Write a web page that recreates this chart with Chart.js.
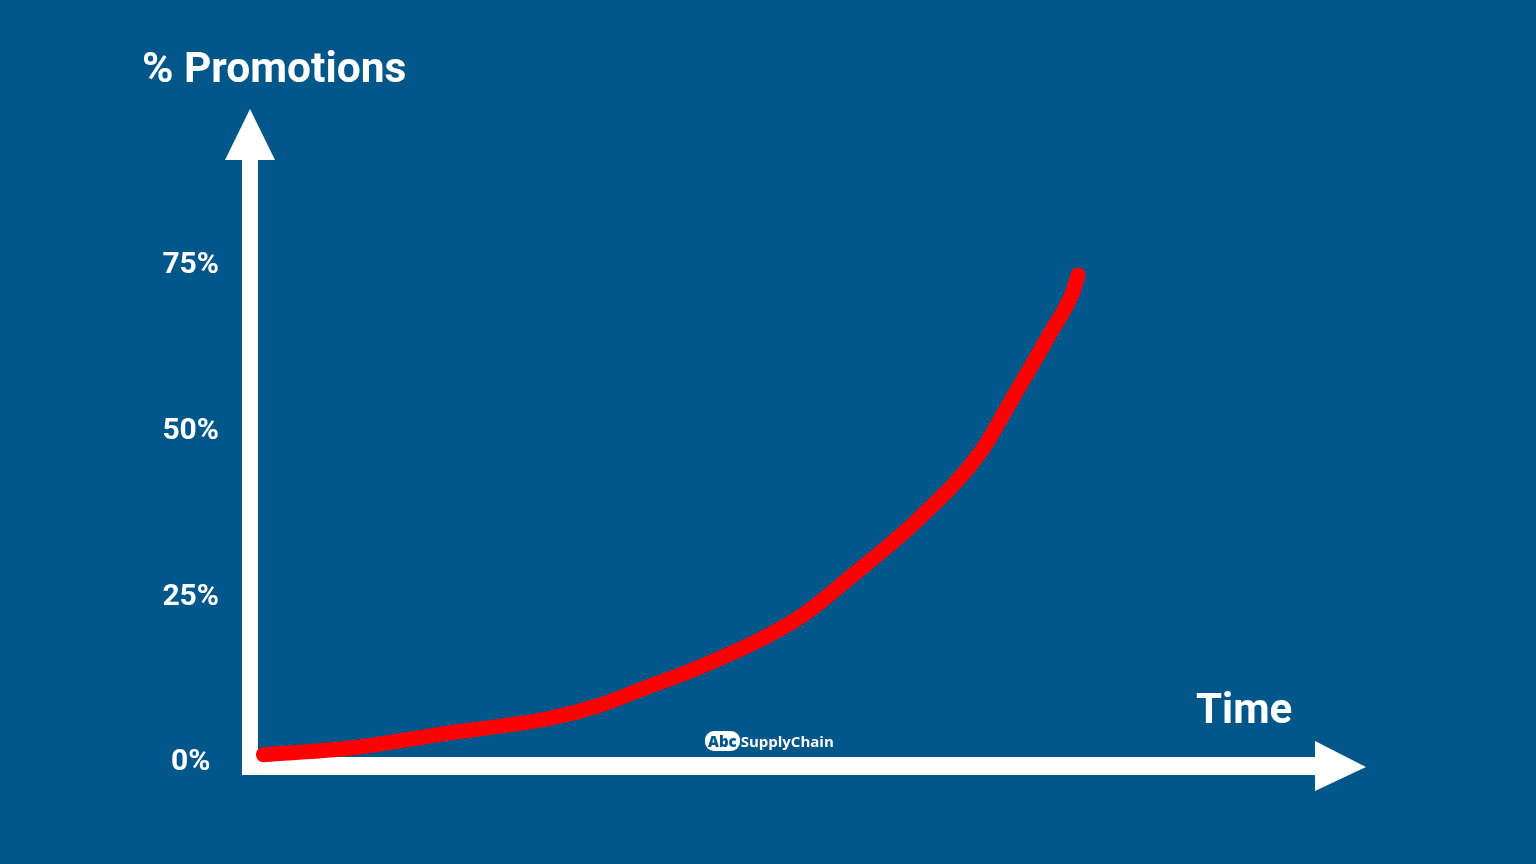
<!DOCTYPE html>
<html>
<head>
<meta charset="utf-8">
<script src="https://cdn.jsdelivr.net/npm/chart.js@4"></script>
<style>
  html, body { margin: 0; padding: 0; background: #01568a; overflow: hidden; }
  #wrap { position: relative; width: 1536px; height: 864px; }
  canvas { position: absolute; left: 0; top: 0; }
  .label { position: absolute; color: #fff; font-family: Roboto, sans-serif; font-weight: 700; white-space: nowrap; }
  #yTitle { left: 142px; top: 47px; font-size: 42.5px; line-height: 42px; }
  #xTitle { left: 1196px; top: 688px; font-size: 42px; line-height: 42px; }
  #brand { left: 705px; top: 732px; font-family: "Open Sans", sans-serif; font-size: 15px; line-height: 18px; }
  #brand .pill { background: #fff; color: #01568a; border-radius: 9px; padding: 0 3px; margin-right: 1px; font-weight: 800; }
</style>
</head>
<body>
<div id="wrap">
  <canvas id="chart" width="1536" height="864"></canvas>
  <div class="label" id="yTitle">% Promotions</div>
  <div class="label" id="xTitle">Time</div>
  <div class="label" id="brand"><span class="pill">Abc</span>SupplyChain</div>
</div>
<script>
/* Values: time (arbitrary units 0-100) and % promotions. */
const timeValues = [1.2, 9.0, 17.9, 26.9, 31.4, 35.6, 40.3, 49.3, 53.8, 59.8, 65.4, 68.4, 71.7, 73.7, 74.2]
const promoValues = [0.8, 1.8, 4.1, 6.3, 8.3, 11.0, 14.0, 21.6, 27.6, 36.2, 46.3, 54.8, 64.4, 70.5, 73.2]

/* Tick values and labels on the y axis. */
const yTickValues = [0, 25, 50, 75]
const yTickLabels = ["0%", "25%", "50%", "75%"]

const points = timeValues.map((t, i) => ({ x: t, y: promoValues[i] }))

/* Plugin to draw the white arrow axes under the curve. */
const arrowAxes = {
  id: "arrowAxes",
  beforeDatasetsDraw(chart) {
    const { ctx, chartArea } = chart
    const x0 = chartArea.left
    const yBar = chart.scales.y.getPixelForValue(0) + 6
    ctx.save()
    ctx.fillStyle = "#ffffff"

    /* Vertical axis with arrow head. */
    ctx.fillRect(x0 - 8, 158, 16, yBar + 9 - 158)
    ctx.beginPath()
    ctx.moveTo(x0 - 25, 160)
    ctx.lineTo(x0 + 25, 160)
    ctx.lineTo(x0, 109)
    ctx.closePath()
    ctx.fill()

    /* Horizontal axis with arrow head. */
    const tip = chartArea.right
    ctx.fillRect(x0 - 8, yBar - 9, tip - 50 - (x0 - 8), 18)
    ctx.beginPath()
    ctx.moveTo(tip - 51, yBar - 25)
    ctx.lineTo(tip - 51, yBar + 25)
    ctx.lineTo(tip, yBar + 1)
    ctx.closePath()
    ctx.fill()
    ctx.restore()
  }
}

const ctx = document.getElementById("chart").getContext("2d")
const chart = new Chart(ctx, {
  type: "line",
  data: {
    datasets: [{
      data: points,
      borderColor: "#ff0000",
      borderWidth: 15,
      borderCapStyle: "round",
      borderJoinStyle: "round",
      cubicInterpolationMode: "monotone",
      pointRadius: 0,
      fill: false,
      clip: false
    }]
  },
  options: {
    responsive: false,
    animation: false,
    events: [],
    layout: {
      padding: { left: 161, right: 170, top: 97.3, bottom: 90.75 }
    },
    scales: {
      x: {
        type: "linear",
        min: 0,
        max: 100,
        display: false
      },
      y: {
        type: "linear",
        min: -2,
        max: 100,
        afterBuildTicks: scale => {
          scale.ticks = yTickValues.map(v => ({ value: v }))
        },
        afterFit: scale => {
          scale.width = 89
        },
        grid: { display: false, drawTicks: false },
        border: { display: false },
        ticks: {
          crossAlign: "center",
          padding: 31,
          labelOffset: 3,
          color: "#ffffff",
          font: { family: "Roboto", size: 30, weight: "bold" },
          callback: value => yTickLabels[yTickValues.indexOf(value)]
        }
      }
    },
    plugins: {
      legend: { display: false },
      tooltip: { enabled: false }
    }
  },
  plugins: [arrowAxes]
})
</script>
</body>
</html>
